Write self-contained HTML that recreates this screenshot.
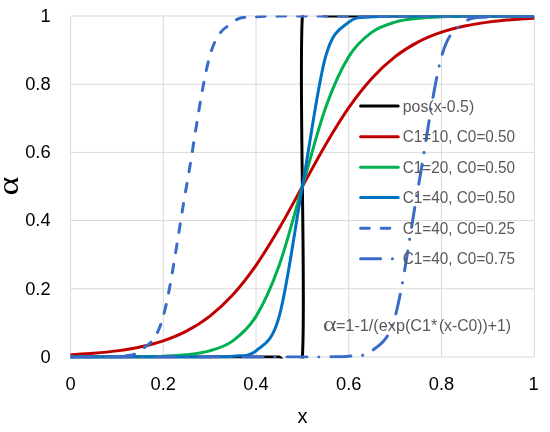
<!DOCTYPE html>
<html><head><meta charset="utf-8"><title>chart</title>
<style>
html,body{margin:0;padding:0;background:#fff;}
svg{display:block;font-family:"Liberation Sans",sans-serif;}
</style></head><body>
<svg width="550" height="432" viewBox="0 0 550 432">
<rect width="550" height="432" fill="#fff"/>
<g stroke="#d9d9d9" stroke-width="1" fill="none">
<line x1="70.50" y1="16.0" x2="70.50" y2="357.0"/>
<line x1="70.5" y1="357.00" x2="534.3" y2="357.00"/>
<line x1="163.26" y1="16.0" x2="163.26" y2="357.0"/>
<line x1="70.5" y1="288.80" x2="534.3" y2="288.80"/>
<line x1="256.02" y1="16.0" x2="256.02" y2="357.0"/>
<line x1="70.5" y1="220.60" x2="534.3" y2="220.60"/>
<line x1="348.78" y1="16.0" x2="348.78" y2="357.0"/>
<line x1="70.5" y1="152.40" x2="534.3" y2="152.40"/>
<line x1="441.54" y1="16.0" x2="441.54" y2="357.0"/>
<line x1="70.5" y1="84.20" x2="534.3" y2="84.20"/>
<line x1="534.30" y1="16.0" x2="534.30" y2="357.0"/>
<line x1="70.5" y1="16.00" x2="534.3" y2="16.00"/>
</g>
<clipPath id="cp"><rect x="70.2" y="15.6" width="464.4" height="343.0"/></clipPath>
<g fill="none" stroke-width="3" stroke-linejoin="round" clip-path="url(#cp)">
<path d="M70.50,357.00 C74.36,357.00 85.96,357.00 93.69,357.00 C101.42,357.00 109.15,357.00 116.88,357.00 C124.61,357.00 132.34,357.00 140.07,357.00 C147.80,357.00 155.53,357.00 163.26,357.00 C170.99,357.00 178.72,357.00 186.45,357.00 C194.18,357.00 201.91,357.00 209.64,357.00 C217.37,357.00 225.10,357.00 232.83,357.00 C240.56,357.00 248.29,357.00 256.02,357.00 C263.75,357.00 271.49,357.00 279.21,357.00 C286.93,357.00 298.49,413.83 302.35,357.00 C306.22,300.17 298.53,72.83 302.40,16.00 C306.27,-40.83 317.86,16.00 325.59,16.00 C333.32,16.00 341.05,16.00 348.78,16.00 C356.51,16.00 364.24,16.00 371.97,16.00 C379.70,16.00 387.43,16.00 395.16,16.00 C402.89,16.00 410.62,16.00 418.35,16.00 C426.08,16.00 433.81,16.00 441.54,16.00 C449.27,16.00 457.00,16.00 464.73,16.00 C472.46,16.00 480.19,16.00 487.92,16.00 C495.65,16.00 503.38,16.00 511.11,16.00 C518.84,16.00 530.43,16.00 534.30,16.00" stroke="#000"/>
<path d="M70.50,354.72 C74.36,354.47 85.96,353.90 93.69,353.25 C101.42,352.61 109.15,351.91 116.88,350.87 C124.61,349.83 132.34,348.68 140.07,347.00 C147.80,345.33 155.53,343.47 163.26,340.83 C170.99,338.18 178.72,335.21 186.45,331.13 C194.18,327.05 201.91,322.41 209.64,316.35 C217.37,310.30 225.10,303.30 232.83,294.79 C240.56,286.28 248.29,276.38 256.02,265.29 C263.75,254.20 271.48,241.39 279.21,228.26 C286.94,215.13 294.67,200.42 302.40,186.50 C310.13,172.58 317.86,157.87 325.59,144.74 C333.32,131.61 341.05,118.80 348.78,107.71 C356.51,96.62 364.24,86.72 371.97,78.21 C379.70,69.70 387.43,62.70 395.16,56.65 C402.89,50.59 410.62,45.95 418.35,41.87 C426.08,37.79 433.81,34.82 441.54,32.17 C449.27,29.53 457.00,27.67 464.73,26.00 C472.46,24.32 480.19,23.17 487.92,22.13 C495.65,21.09 503.38,20.39 511.11,19.75 C518.84,19.10 530.43,18.53 534.30,18.28" stroke="#C00000"/>
<path d="M70.50,356.98 C74.36,356.98 85.96,356.97 93.69,356.96 C101.42,356.94 109.15,356.93 116.88,356.89 C124.61,356.84 132.34,356.81 140.07,356.69 C147.80,356.57 155.53,356.49 163.26,356.16 C170.99,355.83 178.72,355.60 186.45,354.72 C194.18,353.84 201.91,353.18 209.64,350.87 C217.37,348.55 225.10,346.58 232.83,340.83 C240.56,335.08 248.29,328.94 256.02,316.35 C263.75,303.76 271.48,286.93 279.21,265.29 C286.94,243.65 294.67,212.76 302.40,186.50 C310.13,160.24 317.86,129.35 325.59,107.71 C333.32,86.07 341.05,69.24 348.78,56.65 C356.51,44.06 364.24,37.92 371.97,32.17 C379.70,26.42 387.43,24.45 395.16,22.13 C402.89,19.82 410.62,19.16 418.35,18.28 C426.08,17.40 433.81,17.17 441.54,16.84 C449.27,16.51 457.00,16.43 464.73,16.31 C472.46,16.19 480.19,16.16 487.92,16.11 C495.65,16.07 503.38,16.06 511.11,16.04 C518.84,16.03 530.43,16.02 534.30,16.02" stroke="#00B050"/>
<path d="M70.50,357.00 C74.36,357.00 85.96,357.00 93.69,357.00 C101.42,357.00 109.15,357.00 116.88,357.00 C124.61,357.00 132.34,357.00 140.07,357.00 C147.80,357.00 155.53,357.00 163.26,357.00 C170.99,357.00 178.72,357.00 186.45,356.98 C194.18,356.97 201.91,357.02 209.64,356.89 C217.37,356.75 225.10,357.16 232.83,356.16 C240.56,355.15 248.29,357.50 256.02,350.87 C263.75,344.23 271.48,343.75 279.21,316.35 C286.94,288.96 294.67,229.78 302.40,186.50 C310.13,143.22 317.86,84.04 325.59,56.65 C333.32,29.25 341.05,28.77 348.78,22.13 C356.51,15.50 364.24,17.85 371.97,16.84 C379.70,15.84 387.43,16.25 395.16,16.11 C402.89,15.98 410.62,16.03 418.35,16.02 C426.08,16.00 433.81,16.00 441.54,16.00 C449.27,16.00 457.00,16.00 464.73,16.00 C472.46,16.00 480.19,16.00 487.92,16.00 C495.65,16.00 503.38,16.00 511.11,16.00 C518.84,16.00 530.43,16.00 534.30,16.00" stroke="#0070C0"/>
<path d="M70.50,356.98 C74.36,356.97 85.96,357.02 93.69,356.89 C101.42,356.75 109.15,357.16 116.88,356.16 C124.61,355.15 132.34,357.50 140.07,350.87 C147.80,344.23 155.53,343.75 163.26,316.35 C170.99,288.96 178.72,229.78 186.45,186.50 C194.18,143.22 201.91,84.04 209.64,56.65 C217.37,29.25 225.10,28.77 232.83,22.13 C240.56,15.50 248.29,17.85 256.02,16.84 C263.75,15.84 271.48,16.25 279.21,16.11 C286.94,15.98 294.67,16.03 302.40,16.02 C310.13,16.00 317.86,16.00 325.59,16.00 C333.32,16.00 341.05,16.00 348.78,16.00 C356.51,16.00 364.24,16.00 371.97,16.00 C379.70,16.00 387.43,16.00 395.16,16.00 C402.89,16.00 410.62,16.00 418.35,16.00 C426.08,16.00 433.81,16.00 441.54,16.00 C449.27,16.00 457.00,16.00 464.73,16.00 C472.46,16.00 480.19,16.00 487.92,16.00 C495.65,16.00 503.38,16.00 511.11,16.00 C518.84,16.00 530.43,16.00 534.30,16.00" stroke="#3A6BC9" stroke-dasharray="8.7 11.8" stroke-dashoffset="6" stroke-linecap="round"/>
<path d="M70.50,357.00 C74.36,357.00 85.96,357.00 93.69,357.00 C101.42,357.00 109.15,357.00 116.88,357.00 C124.61,357.00 132.34,357.00 140.07,357.00 C147.80,357.00 155.53,357.00 163.26,357.00 C170.99,357.00 178.72,357.00 186.45,357.00 C194.18,357.00 201.91,357.00 209.64,357.00 C217.37,357.00 225.10,357.00 232.83,357.00 C240.56,357.00 248.29,357.00 256.02,357.00 C263.75,357.00 271.48,357.00 279.21,357.00 C286.94,357.00 294.67,357.00 302.40,356.98 C310.13,356.97 317.86,357.02 325.59,356.89 C333.32,356.75 341.05,357.16 348.78,356.16 C356.51,355.15 364.24,357.50 371.97,350.87 C379.70,344.23 387.43,343.75 395.16,316.35 C402.89,288.96 410.62,229.78 418.35,186.50 C426.08,143.22 433.81,84.04 441.54,56.65 C449.27,29.25 457.00,28.77 464.73,22.13 C472.46,15.50 480.19,17.85 487.92,16.84 C495.65,15.84 503.38,16.25 511.11,16.11 C518.84,15.98 530.43,16.03 534.30,16.02" stroke="#3A6BC9" stroke-dasharray="20 11.75 0.1 12.05" stroke-dashoffset="3" stroke-linecap="round"/>
</g>
<g font-size="18.3" fill="#000">
<text x="50.6" y="362.70" text-anchor="end">0</text>
<text x="50.6" y="294.50" text-anchor="end">0.2</text>
<text x="50.6" y="226.30" text-anchor="end">0.4</text>
<text x="50.6" y="158.10" text-anchor="end">0.6</text>
<text x="50.6" y="89.90" text-anchor="end">0.8</text>
<text x="50.6" y="21.70" text-anchor="end">1</text>
<text x="70.50" y="390.4" text-anchor="middle">0</text>
<text x="163.26" y="390.4" text-anchor="middle">0.2</text>
<text x="256.02" y="390.4" text-anchor="middle">0.4</text>
<text x="348.78" y="390.4" text-anchor="middle">0.6</text>
<text x="441.54" y="390.4" text-anchor="middle">0.8</text>
<text x="533.60" y="390.4" text-anchor="middle">1</text>
</g>
<text x="302.4" y="422.6" font-size="20" text-anchor="middle" fill="#000">x</text>
<text transform="translate(18.3,186) rotate(-90) scale(1.2,1)" font-size="30" text-anchor="middle" fill="#000" font-family="'Liberation Serif',serif">α</text>
<g font-size="16.5" fill="#595959">
<line x1="360.6" y1="106" x2="398.2" y2="106" stroke="#000000" stroke-width="3" stroke-linecap="round"/>
<text x="402.8" y="111.5" textLength="71.4" lengthAdjust="spacingAndGlyphs">pos(x-0.5)</text>
<line x1="360.6" y1="136.7" x2="398.2" y2="136.7" stroke="#C00000" stroke-width="3" stroke-linecap="round"/>
<text x="402.8" y="142.2" textLength="112.3" lengthAdjust="spacingAndGlyphs">C1=10, C0=0.50</text>
<line x1="360.6" y1="167.3" x2="398.2" y2="167.3" stroke="#00B050" stroke-width="3" stroke-linecap="round"/>
<text x="402.8" y="172.8" textLength="112.3" lengthAdjust="spacingAndGlyphs">C1=20, C0=0.50</text>
<line x1="360.6" y1="197.5" x2="398.2" y2="197.5" stroke="#0070C0" stroke-width="3" stroke-linecap="round"/>
<text x="402.8" y="203.0" textLength="112.3" lengthAdjust="spacingAndGlyphs">C1=40, C0=0.50</text>
<line x1="360.6" y1="228.3" x2="398.2" y2="228.3" stroke="#3A6BC9" stroke-width="3" stroke-linecap="round" stroke-dasharray="8.7 11.8"/>
<text x="402.8" y="233.8" textLength="112.3" lengthAdjust="spacingAndGlyphs">C1=40, C0=0.25</text>
<line x1="360.6" y1="258.7" x2="398.2" y2="258.7" stroke="#3A6BC9" stroke-width="3" stroke-linecap="round" stroke-dasharray="20 11.75 0.1 12.05"/>
<text x="402.8" y="264.2" textLength="112.3" lengthAdjust="spacingAndGlyphs">C1=40, C0=0.75</text>
<text transform="translate(323,331) scale(1.2,1)" font-size="21.5" font-family="'Liberation Serif',serif">α</text>
<text x="335.9" y="331" textLength="101.5" lengthAdjust="spacingAndGlyphs">=1-1/(exp(C1*</text>
<text x="438.9" y="331" textLength="72" lengthAdjust="spacingAndGlyphs">(x-C0))+1)</text>
</g>
</svg>
</body></html>
